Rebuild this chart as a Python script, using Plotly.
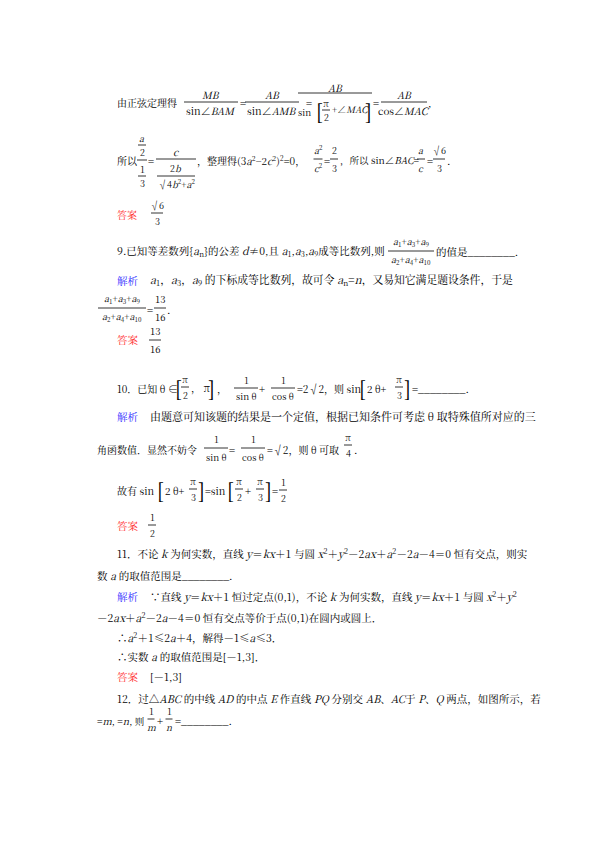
import plotly.graph_objects as go

CJK = "SimSun, 'Noto Serif CJK SC', 'Noto Sans CJK SC', serif"
RED = "#ff2a2a"
BLUE = "#3030ff"

ann = []
shp = []

def t(x, y, s, size=10.5, color="black", anchor="left"):
    ann.append(dict(x=x, y=y, text=s, showarrow=False, xanchor=anchor, yanchor="middle",
                    borderpad=0, font=dict(size=size, color=color, family=CJK)))

def frac(xc, y, num, den, w, gap=8, size=10):
    t(xc, y - gap, num, size, anchor="center")
    if den:
        t(xc, y + gap, den, size, anchor="center")
    shp.append(dict(type="line", x0=xc - w / 2, x1=xc + w / 2, y0=y, y1=y,
                    line=dict(color="black", width=0.8)))

def br(x, y, s, size=20):
    t(x, y, s, size, anchor="center")

# ---- block 1
t(108, 94, "由正弦定理得", 10)
frac(203, 94, "<i>MB</i>", "sin∠<i>BAM</i>", 54)
t(231, 94, "=")
frac(264, 94, "<i>AB</i>", "sin∠<i>AMB</i>", 54)
t(297, 94, "=")
t(327, 79, "<i>AB</i>", 10, anchor="center")
shp.append(dict(type="line", x0=290, x1=364, y0=85, y1=85, line=dict(color="black", width=0.8)))
t(289, 104, "sin", 9)
br(311, 102, "[")
frac(318, 102, "π", "2", 8, 7, 9)
t(323, 101, "+∠<i>MAC</i>", 9)
br(360, 102, "]")
t(364, 94, "=")
frac(396, 94, "<i>AB</i>", "cos∠<i>MAC</i>", 46)
t(419, 94, ",")

# ---- block 2
t(108, 152, "所以", 10)
frac(134, 137, "<i>a</i>", "2", 8, 7, 9)
frac(134, 168, "1", "3", 8, 7, 9)
shp.append(dict(type="line", x0=129, x1=139, y0=152, y1=152, line=dict(color="black", width=0.8)))
t(139, 152, "=")
frac(168, 151, "<i>c</i>", "", 40)
frac(168, 168, "2<i>b</i>", "√4<i>b</i><sup>2</sup>+<i>a</i><sup>2</sup>", 38, 8, 9)
t(188, 152, "，整理得(3<i>a</i><sup>2</sup>−2<i>c</i><sup>2</sup>)<sup>2</sup>=0，", 10)
frac(310, 151, "<i>a</i><sup>2</sup>", "<i>c</i><sup>2</sup>", 9, 9, 9)
t(315, 152, "=")
frac(326, 151, "2", "3", 8, 9, 9)
t(331, 152, "，所以 sin∠<i>BAC</i>=", 9.5)
frac(413, 151, "<i>a</i>", "<i>c</i>", 8, 9, 9)
t(418, 152, "=")
frac(431, 151, "√6", "3", 12, 9, 9)
t(438, 152, ".")

t(108, 206, "答案", 10, color=RED)
frac(149, 205, "√6", "3", 12, 8, 9)

# ---- 9
t(108, 243, "9.已知等差数列{<i>a</i><sub>n</sub>}的公差 <i>d</i>≠0,且 <i>a</i><sub>1</sub>,<i>a</i><sub>3</sub>,<i>a</i><sub>9</sub>成等比数列,则")
frac(403, 243, "<i>a</i><sub>1</sub>+<i>a</i><sub>3</sub>+<i>a</i><sub>9</sub>", "<i>a</i><sub>2</sub>+<i>a</i><sub>4</sub>+<i>a</i><sub>10</sub>", 46, 9, 9)
t(427, 243, "的值是________.")
t(108, 272, "解析", color=BLUE)
t(141, 272, "<i>a</i><sub>1</sub>，<i>a</i><sub>3</sub>，<i>a</i><sub>9</sub> 的下标成等比数列，故可令 <i>a</i><sub>n</sub>=<i>n</i>，又易知它满足题设条件，于是", 10.8)
frac(114, 300, "<i>a</i><sub>1</sub>+<i>a</i><sub>3</sub>+<i>a</i><sub>9</sub>", "<i>a</i><sub>2</sub>+<i>a</i><sub>4</sub>+<i>a</i><sub>10</sub>", 48, 9, 9)
t(138, 301, "=")
frac(152, 300, "13", "16", 12, 9, 9.5)
t(158, 301, ".")
t(108, 331, "答案", color=RED)
frac(147, 332, "13", "16", 12, 9, 9.5)

# ---- 10
t(108, 380, "10．已知 θ ∈", 10)
br(170, 379, "[")
frac(177, 379, "π", "2", 8, 8, 9)
t(182, 379, "， π", 10)
br(203, 379, "]")
t(208, 380, "，", 10)
frac(238, 380, "1", "sin θ", 24, 8, 9)
t(250, 380, "+")
frac(275, 380, "1", "cos θ", 24, 8, 9)
t(288, 380, "=2√2，则 sin", 10)
br(354, 379, "[")
t(358, 380, "2 θ+", 10)
frac(391, 379, "π", "3", 8, 8, 9)
br(399, 379, "]")
t(403, 380, "=________.")

t(108, 408, "解析", color=BLUE)
t(141, 408, "由题意可知该题的结果是一个定值，根据已知条件可考虑 θ 取特殊值所对应的三", 11)
t(88, 441, "角函数值．显然不妨令", 10)
frac(208, 440, "1", "sin θ", 24, 9, 9)
t(220, 441, "=")
frac(245, 440, "1", "cos θ", 24, 9, 9)
t(258, 441, "=√2，则 θ 可取", 10)
frac(340, 437, "π", "4", 8, 8, 9)
t(345, 441, ".")

t(108, 482, "故有 sin", 10)
br(152, 481, "[")
t(156, 482, "2 θ+", 10)
frac(185, 481, "π", "3", 8, 8, 9)
br(193, 481, "]")
t(196, 482, "=sin", 10)
br(222, 481, "[")
frac(231, 481, "π", "2", 8, 8, 9)
t(236, 482, "+")
frac(252, 481, "π", "3", 8, 8, 9)
br(260, 481, "]")
t(263, 482, "=")
frac(275, 482, "1", "2", 8, 8, 9)

t(108, 517, "答案", color=RED)
frac(144, 517, "1", "2", 8, 8, 9)

# ---- 11
t(108, 545, "11．不论 <i>k</i> 为何实数，直线 <i>y</i>＝<i>kx</i>＋1 与圆 <i>x</i><sup>2</sup>＋<i>y</i><sup>2</sup>－2<i>ax</i>＋<i>a</i><sup>2</sup>－2<i>a</i>－4＝0 恒有交点，则实", 10.5)
t(88, 567, "数 <i>a</i> 的取值范围是________.")
t(108, 588, "解析", color=BLUE)
t(141, 588, "∵直线 <i>y</i>＝<i>kx</i>＋1 恒过定点(0,1)，不论 <i>k</i> 为何实数，直线 <i>y</i>＝<i>kx</i>＋1 与圆 <i>x</i><sup>2</sup>＋<i>y</i><sup>2</sup>", 10.5)
t(88, 609, "－2<i>ax</i>＋<i>a</i><sup>2</sup>－2<i>a</i>－4＝0 恒有交点等价于点(0,1)在圆内或圆上．")
t(108, 629, "∴<i>a</i><sup>2</sup>＋1≤2<i>a</i>＋4，解得－1≤<i>a</i>≤3．")
t(108, 648, "∴实数 <i>a</i> 的取值范围是[－1,3]．")
t(108, 668, "答案", color=RED)
t(141, 668, "[－1,3]")

# ---- 12
t(108, 690, "12．过△<i>ABC</i> 的中线 <i>AD</i> 的中点 <i>E</i> 作直线 <i>PQ</i> 分别交 <i>AB</i>、<i>AC</i>于 <i>P</i>、<i>Q</i> 两点，如图所示，若", 10.5)
t(88, 713, "=<i>m</i>, =<i>n</i>, 则", 9.5)
frac(143, 711, "1", "<i>m</i>", 7, 8, 9)
t(148, 712, "+")
frac(161, 711, "1", "<i>n</i>", 7, 8, 9)
t(166, 712, "=________.")

fig = go.Figure()
fig.update_layout(width=595, height=842, margin=dict(l=0, r=0, t=0, b=0),
                  plot_bgcolor="white", paper_bgcolor="white",
                  xaxis=dict(range=[0, 595], visible=False, fixedrange=True),
                  yaxis=dict(range=[842, 0], visible=False, fixedrange=True),
                  annotations=ann, shapes=shp, showlegend=False)
fig.write_html("out.html")
